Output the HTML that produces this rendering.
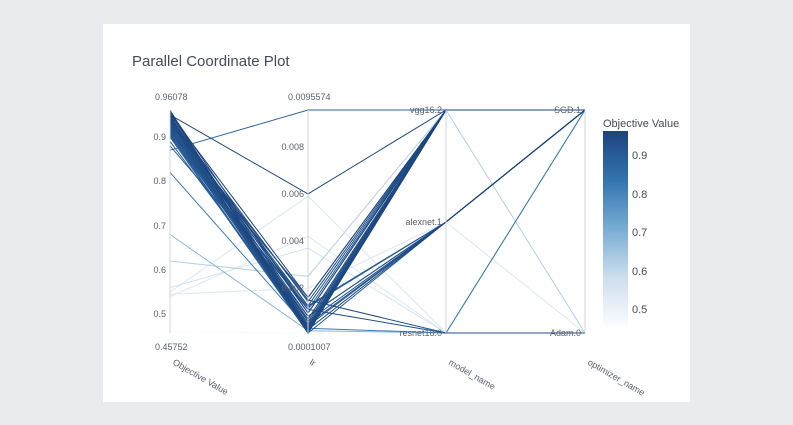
<!DOCTYPE html>
<html><head><meta charset="utf-8"><style>
html,body{margin:0;padding:0;background:#e9ebee;}
body{width:793px;height:425px;position:relative;overflow:hidden;font-family:"Liberation Sans",sans-serif;}
.card{position:absolute;left:103px;top:24px;width:587px;height:378px;background:#fff;}
</style></head><body>
<div class="card"></div>
<svg id="s" width="793" height="425" style="position:absolute;left:0;top:0" font-family="Liberation Sans, sans-serif">
<defs><linearGradient id="cb" x1="0" y1="1" x2="0" y2="0">
<stop offset="0" stop-color="rgb(250,252,255)"/><stop offset="0.25" stop-color="rgb(205,222,238)"/>
<stop offset="0.5" stop-color="rgb(120,172,210)"/><stop offset="0.75" stop-color="rgb(50,115,175)"/>
<stop offset="1" stop-color="rgb(28,68,125)"/></linearGradient></defs>
<text x="132" y="66" font-size="15" fill="#444b5a">Parallel Coordinate Plot</text>
<g id="lines"></g>
<g stroke="#d4d4d4" stroke-width="1">
<line x1="170" y1="110" x2="170" y2="333"/><line x1="308" y1="110" x2="308" y2="333"/>
<line x1="446" y1="110" x2="446" y2="333"/><line x1="585" y1="110" x2="585" y2="333"/>
</g>
<g font-size="9" fill="#5a6170">
<text x="155" y="100">0.96078</text><text x="155" y="350">0.45752</text>
<text x="288" y="100">0.0095574</text><text x="288" y="350">0.0001007</text>
<g text-anchor="end">
<text x="166" y="140">0.9</text><text x="166" y="184">0.8</text><text x="166" y="229">0.7</text><text x="166" y="273">0.6</text><text x="166" y="317">0.5</text>
<text x="304" y="150">0.008</text><text x="304" y="197">0.006</text><text x="304" y="244">0.004</text><text x="304" y="291">0.002</text>
<text x="442" y="113">vgg16.2</text><text x="442" y="225">alexnet.1</text><text x="442" y="336">resnet18.0</text>
<text x="581" y="113">SGD.1</text><text x="581" y="336">Adam.0</text>
</g>
<text transform="translate(172,364) rotate(30)">Objective Value</text>
<text transform="translate(309,364) rotate(30)">lr</text>
<text transform="translate(448,364) rotate(30)">model_name</text>
<text transform="translate(587,364) rotate(30)">optimizer_name</text>
</g>
<text x="603" y="127" font-size="11" fill="#444b5a">Objective Value</text>
<rect x="603" y="131" width="25" height="195" fill="url(#cb)"/>
<g font-size="11" fill="#444b5a">
<text x="632" y="159">0.9</text><text x="632" y="198">0.8</text><text x="632" y="236">0.7</text><text x="632" y="275">0.6</text><text x="632" y="313">0.5</text>
</g>
</svg>
<script>
var stops=[[250,252,255],[205,222,238],[120,172,210],[50,115,175],[28,68,125]];
function col(v){var t=(v-0.45752)/(0.96078-0.45752);t=Math.max(0,Math.min(1,t))*4;var i=Math.min(3,Math.floor(t)),f=t-i,a=stops[i],b=stops[i+1];
return 'rgb('+a.map(function(x,k){return Math.round(x+(b[k]-x)*f)}).join(',')+')';}
function yo(v){return 333-(v-0.45752)/(0.96078-0.45752)*223;}
function yl(v){return 333-(v-0.0001007)/(0.0095574-0.0001007)*223;}
function ym(m){return [333,222,110][m];}
function yp(p){return [333,110][p];}
var d=[[0.55,0.0059,0,1],[0.54,0.0042,0,1],[0.56,0.0037,0,0],[0.68,0.0002,0,1],[0.46,0.0001,0,0],[0.545,0.002,1,0],[0.62,0.0025,2,0],
[0.87,0.0095574,2,1],[0.95,0.006,2,1],[0.82,0.0003,0,1],[0.89,0.0004,1,1],[0.88,0.0012,1,1],[0.91,0.0008,1,1],[0.93,0.0015,0,0],[0.94,0.0011,0,0],[0.92,0.0006,1,1]];
for(var i=0;i<30;i++){var o=0.90+((i*37)%61)/1000,f=((i*53)%17)/17,l=0.0001+f*f*0.0017;d.push([o,l,i%7==0?1:2,1]);}
d.sort(function(a,b){return a[0]-b[0]});
var h='';d.forEach(function(r){var c=col(r[0]);h+='<polyline fill="none" stroke="'+c+'" stroke-width="1" points="170,'+yo(r[0]).toFixed(1)+' 308,'+yl(r[1]).toFixed(1)+' 446,'+ym(r[2])+' 585,'+yp(r[3])+'"/>';});
document.getElementById('lines').innerHTML=h;
</script>
</body></html>
